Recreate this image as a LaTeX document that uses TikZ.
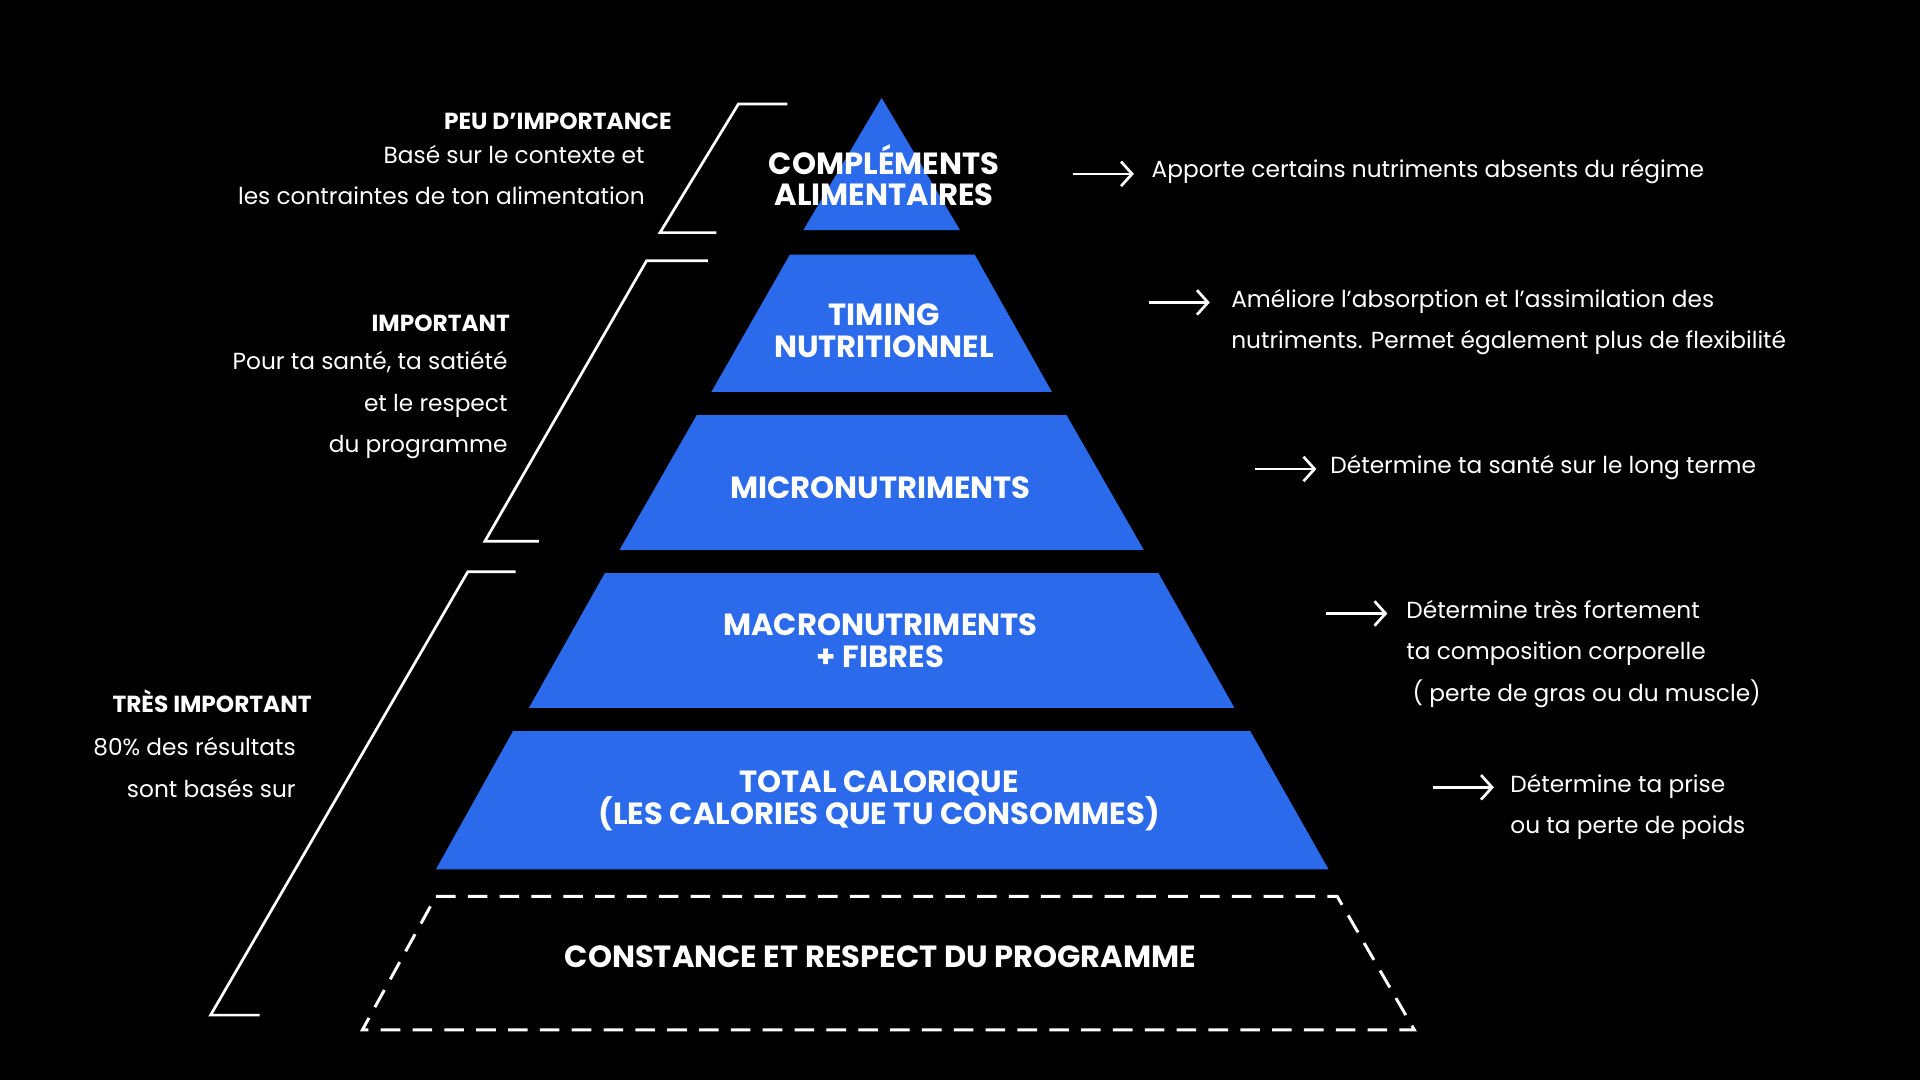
\documentclass[tikz,border=0pt]{standalone}
\usepackage{fontspec}
\setmainfont{Poppins}
\usetikzlibrary{arrows.meta}
\definecolor{pblue}{HTML}{2B6BEB}
\begin{document}
\begin{tikzpicture}[x=1pt,y=-1pt,
  tier/.style={fill=pblue,draw=none},
  brk/.style={draw=white,line width=2.2pt},
  arr/.style={draw=white,line width=2.2pt,-{Straight Barb[length=9pt,width=20pt,line width=2.2pt]}},
  title/.style={text=white,font=\fontsize{25}{30}\selectfont\bfseries,align=center},
  desc/.style={text=white,font=\fontsize{19}{34}\selectfont,align=left,anchor=west},
  lab/.style={text=white,font=\fontsize{19}{34}\selectfont,align=right,anchor=east},
  labb/.style={text=white,font=\fontsize{19}{34}\selectfont\bfseries,anchor=east}]
\fill[black] (0,0) rectangle (1568,882);
\useasboundingbox (0,0) rectangle (1568,882);
% tiers
\fill[tier] (720,80) -- (784,188) -- (656,188) -- cycle;
\fill[tier] (645,208) -- (796,208) -- (859,320) -- (581,320) -- cycle;
\fill[tier] (569,339) -- (871,339) -- (934,449) -- (506,449) -- cycle;
\fill[tier] (494,468) -- (946,468) -- (1008,578) -- (432,578) -- cycle;
\fill[tier] (419,597) -- (1021,597) -- (1085,710) -- (356,710) -- cycle;
\draw[white,line width=2.4pt,dash pattern=on 16pt off 10pt] (356,732) -- (1092,732) -- (1155,841) -- (296,841) -- cycle;
\node[title] (t1) at (722,143) {COMPLÉMENTS\\[-4pt]ALIMENTAIRES};
\node[title] (t2) at (722,270) {TIMING\\[-4pt]NUTRITIONNEL};
\node[title] (t3) at (719,398) {MICRONUTRIMENTS};
\node[title] (t4) at (719,523) {MACRONUTRIMENTS\\[-4pt]+ FIBRES};
\node[title] (t5) at (718,654) {TOTAL CALORIQUE\\[-4pt](LES CALORIES QUE TU CONSOMMES)};
\node[title] (t6) at (719,781) {CONSTANCE ET RESPECT DU PROGRAMME};
% brackets
\draw[brk] (643,85) -- (603,85) -- (539,190) -- (585,190);
\draw[brk] (578,213) -- (528,213) -- (396,442) -- (440,442);
\draw[brk] (421,467) -- (382,467) -- (172,829) -- (212,829);
% left labels
\node[labb] (l1) at (552,99) {PEU D'IMPORTANCE};
\node[lab] (l1b) at (530,143) {Basé sur le contexte et\\les contraintes de ton alimentation};
\node[labb] (l2) at (420,264) {IMPORTANT};
\node[lab] (l2b) at (418,331) {Pour ta santé, ta satiété\\et le respect\\du programme};
\node[labb] (l3) at (258,573) {TRÈS IMPORTANT};
\node[lab] (l3b) at (245,627) {80\% des résultats\\sont basés sur};
% arrows and descriptions
\coordinate (a1s) at (876,142); \coordinate (a1e) at (926,142);
\coordinate (a2s) at (938,247); \coordinate (a2e) at (988,247);
\coordinate (a3s) at (1025,383); \coordinate (a3e) at (1075,383);
\coordinate (a4s) at (1083,501); \coordinate (a4e) at (1133,501);
\coordinate (a5s) at (1170,643); \coordinate (a5e) at (1220,643);
\foreach \i in {1,...,5} \draw[arr] (a\i s) -- (a\i e);
\node[desc] (d1) at (937,140) {Apporte certains nutriments absents du régime};
\node[desc] (d2) at (1002,263) {Améliore l'absorption et l'assimilation des\\nutriments. Permet également plus de flexibilité};
\node[desc] (d3) at (1083,382) {Détermine ta santé sur le long terme};
\node[desc] (d4) at (1145,534) {Détermine très fortement\\ta composition corporelle\\\ ( perte de gras ou du muscle)};
\node[desc] (d5) at (1230,659) {Détermine ta prise\\ou ta perte de poids};
\end{tikzpicture}
\end{document}
